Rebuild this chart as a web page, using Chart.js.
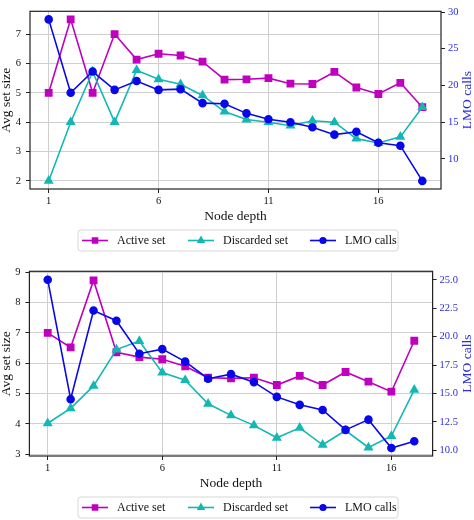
<!DOCTYPE html>
<html>
<head>
<meta charset="utf-8">
<script src="https://cdn.jsdelivr.net/npm/chart.js@4.4.0/dist/chart.umd.min.js"></script>
<style>
  body { margin: 0; background: #fff; }
  .painel { position: absolute; left: 0; width: 474px; height: 260px; }
</style>
</head>
<body>
<div class="painel" style="top:0"><canvas id="graficoTopo"></canvas></div>
<div class="painel" style="top:260px"><canvas id="graficoBaixo"></canvas></div>
<script>
// ====== DADOS (grafico de cima) ======
const depthsTop = [1, 2, 3, 4, 5, 6, 7, 8, 9, 10, 11, 12, 13, 14, 15, 16, 17, 18];
const activeTop = [5.0, 7.5, 5.0, 7.0, 6.13, 6.33, 6.27, 6.06, 5.45, 5.46, 5.5, 5.31, 5.3, 5.71, 5.18, 4.96, 5.34, 4.51];
const discardedTop = [2.0, 4.0, 5.72, 4.0, 5.77, 5.46, 5.29, 4.91, 4.36, 4.09, 4.0, 3.88, 4.05, 4.0, 3.44, 3.29, 3.5, 4.51];
const lmoTop = [29.0, 19.0, 21.9, 19.4, 20.6, 19.4, 19.5, 17.6, 17.5, 16.2, 15.4, 15.0, 14.3, 13.3, 13.7, 12.2, 11.8, 7.0];

// ====== DADOS (grafico de baixo) ======
const depthsBottom = [1, 2, 3, 4, 5, 6, 7, 8, 9, 10, 11, 12, 13, 14, 15, 16, 17];
const activeBottom = [7.0, 6.52, 8.73, 6.36, 6.2, 6.13, 5.9, 5.52, 5.5, 5.52, 5.28, 5.58, 5.28, 5.71, 5.39, 5.06, 6.74];
const discardedBottom = [4.02, 4.51, 5.25, 6.45, 6.73, 5.69, 5.44, 4.66, 4.28, 3.95, 3.54, 3.87, 3.31, 3.78, 3.22, 3.6, 5.12];
const lmoBottom = [25.0, 14.5, 22.3, 21.4, 18.5, 18.9, 17.8, 16.3, 16.7, 16.0, 14.7, 14.0, 13.55, 11.8, 12.7, 10.2, 10.8];

// ====== TICKS ======
const xTicks = [1, 6, 11, 16];
const leftTicksTop = [2, 3, 4, 5, 6, 7];
const rightTicksTop = [10, 15, 20, 25, 30];
const leftTicksBottom = [3, 4, 5, 6, 7, 8, 9];
const rightTicksBottom = [10, 12.5, 15, 17.5, 20, 22.5, 25];

const labels = ["Active set", "Discarded set", "LMO calls"];

// CORES
const corActive = "#bf00bf";
const corDiscarded = "#12b8b3";
const corLmo = "#0808e8";
const corEixoDir = "#2a2ae0";

Chart.defaults.font.family = "'Liberation Serif', 'DejaVu Serif', serif";
Chart.defaults.color = "#111";

const pares = (xs, ys) => xs.map((x, i) => ({ x, y: ys[i] }));

// moldura + titulo do eixo direito
const moldura = {
  id: "moldura",
  afterDraw(chart) {
    const { ctx, chartArea: a } = chart;
    ctx.save();
    ctx.strokeStyle = "#222";
    ctx.lineWidth = 1.2;
    ctx.strokeRect(a.left, a.top, a.right - a.left, a.bottom - a.top);

    ctx.translate(chart.width - 6.5, (a.top + a.bottom) / 2);
    ctx.rotate(-Math.PI / 2);
    ctx.fillStyle = corEixoDir;
    ctx.font = "13.5px 'Liberation Serif', serif";
    ctx.textAlign = "center";
    ctx.textBaseline = "middle";
    ctx.fillText("LMO calls", 0, 0);
    ctx.restore();
  }
};

// legenda com linha + marcador, igual ao matplotlib
const legenda = {
  id: "legenda",
  afterDraw(chart, args, opts) {
    const ctx = chart.ctx;
    ctx.save();
    ctx.beginPath();
    ctx.roundRect(opts.x, opts.y, opts.w, opts.h, 3);
    ctx.fillStyle = "rgba(255,255,255,0.8)";
    ctx.fill();
    ctx.strokeStyle = "#d6d6d6";
    ctx.lineWidth = 1;
    ctx.stroke();

    const cy = opts.y + opts.h / 2;
    chart.data.datasets.forEach((ds, i) => {
      const lx = opts.itens[i];
      ctx.strokeStyle = ds.borderColor;
      ctx.lineWidth = 1.6;
      ctx.beginPath();
      ctx.moveTo(lx, cy);
      ctx.lineTo(lx + 26, cy);
      ctx.stroke();

      ctx.fillStyle = ds.pointBackgroundColor;
      Chart.helpers.drawPoint(ctx, { pointStyle: ds.pointStyle, radius: ds.pointRadius * 0.8, borderWidth: 1 }, lx + 13, cy);

      ctx.fillStyle = "#111";
      ctx.font = "12px 'Liberation Serif', serif";
      ctx.textAlign = "left";
      ctx.textBaseline = "middle";
      ctx.fillText(labels[i], lx + 35, cy);
    });
    ctx.restore();
  }
};

function fixar(lista) {
  return (scale) => { scale.ticks = lista.map(v => ({ value: v })); };
}

function montarGrafico(id, c) {
  const ctx = document.getElementById(id).getContext("2d");
  return new Chart(ctx, {
    type: "line",
    data: {
      datasets: [
        {
          label: labels[0], data: pares(c.depths, c.active), yAxisID: "y",
          borderColor: corActive, pointBackgroundColor: corActive, pointBorderColor: corActive,
          pointStyle: "rect", pointRadius: 4.4, borderWidth: 1.6, order: 3
        },
        {
          label: labels[1], data: pares(c.depths, c.discarded), yAxisID: "y",
          borderColor: corDiscarded, pointBackgroundColor: corDiscarded, pointBorderColor: corDiscarded,
          pointStyle: "triangle", pointRadius: 4.2, borderWidth: 1.6, order: 2
        },
        {
          label: labels[2], data: pares(c.depths, c.lmo), yAxisID: "y2",
          borderColor: corLmo, pointBackgroundColor: corLmo, pointBorderColor: corLmo,
          pointStyle: "circle", pointRadius: 3.5, borderWidth: 1.6, order: 1
        }
      ]
    },
    options: {
      responsive: true,
      maintainAspectRatio: false,
      animation: false,
      layout: { padding: { top: c.padTop, bottom: c.padBottom, left: 0, right: 0 } },
      plugins: {
        legend: { display: false },
        tooltip: { enabled: false },
        legenda: c.legenda
      },
      scales: {
        x: {
          type: "linear", min: c.xMin, max: c.xMax,
          afterBuildTicks: fixar(xTicks),
          afterFit: (s) => { s.height = 37; },
          grid: { color: "#cfcfcf", lineWidth: 1, tickColor: "#222", tickLength: 4 },
          border: { display: false },
          ticks: { padding: 2, font: { size: 10.5 }, color: "#111" },
          title: { display: true, text: "Node depth", font: { size: 13.5 }, padding: { top: 0, bottom: 1 }, color: "#111" }
        },
        y: {
          position: "left", min: c.yMin, max: c.yMax,
          afterBuildTicks: fixar(c.leftTicks),
          afterFit: (s) => { s.width = c.leftW; },
          grid: { color: "#cfcfcf", lineWidth: 1, tickColor: "#222", tickLength: 4 },
          border: { display: false },
          ticks: { padding: 5, font: { size: 10.5 }, color: "#111" },
          title: { display: true, text: "Avg set size", font: { size: 13.5, lineHeight: 1 }, padding: { top: 0, bottom: 0 }, color: "#111" }
        },
        y2: {
          position: "right", min: c.y2Min, max: c.y2Max,
          afterBuildTicks: fixar(c.rightTicks),
          afterFit: (s) => { s.width = c.rightW; },
          grid: { drawOnChartArea: false, tickColor: "#222", tickLength: 4 },
          border: { display: false },
          ticks: { padding: 3, font: { size: 10.5 }, color: corEixoDir, callback: c.fmtRight }
        }
      }
    },
    plugins: [moldura, legenda]
  });
}

// ====== GRAFICO DE CIMA ======
montarGrafico("graficoTopo", {
  depths: depthsTop, active: activeTop, discarded: discardedTop, lmo: lmoTop,
  xMin: 0.15, xMax: 18.85, yMin: 1.725, yMax: 7.775, y2Min: 5.9, y2Max: 30.1,
  leftTicks: leftTicksTop, rightTicks: rightTicksTop,
  fmtRight: (v) => String(v),
  padTop: 3, padBottom: 34, leftW: 30, rightW: 33,
  legenda: { x: 78, y: 230, w: 320, h: 21, itens: [82, 188, 310] }
});

// ====== GRAFICO DE BAIXO ======
montarGrafico("graficoBaixo", {
  depths: depthsBottom, active: activeBottom, discarded: discardedBottom, lmo: lmoBottom,
  xMin: 0.2, xMax: 17.8, yMin: 2.94, yMax: 9.03, y2Min: 9.5, y2Max: 25.75,
  leftTicks: leftTicksBottom, rightTicks: rightTicksBottom,
  fmtRight: (v) => Number(v).toFixed(1),
  padTop: 10, padBottom: 27, leftW: 29.4, rightW: 41.4,
  legenda: { x: 78, y: 237, w: 320, h: 21, itens: [82, 188, 310] }
});
</script>
</body>
</html>
